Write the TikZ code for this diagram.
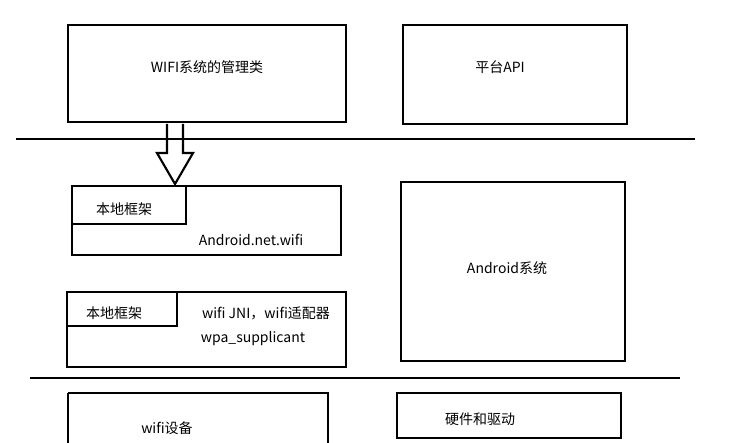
\documentclass[tikz,border=0pt]{standalone}
\usepackage{fontspec}
\setmainfont{Noto Sans CJK SC}
\usetikzlibrary{positioning}
\tikzset{
  box/.style={draw,line width=2.2pt},
  lab/.style={font=\fontsize{10.5}{12}\selectfont}
}
\begin{document}
\begin{tikzpicture}[x=0.75pt,y=-0.75pt]
\useasboundingbox (0,0) rectangle (741,442);
% upper layer
\draw[box] (68,25) rectangle (346,122);
\node[lab] (mgr) at (207,67) {WIFI系统的管理类};
\draw[box] (403,25) rectangle (627,124);
\node[lab] (api) at (500,67) {平台API};
\draw[line width=2.2pt] (16,139) -- (695,139);
% hollow arrow
\draw[line width=1.6pt] (167,124) -- (167,153) -- (157,153) -- (175,184)
  -- (193,153) -- (183,153) -- (183,124);
% middle layer
\draw[box] (72,186) rectangle (341,255);
\draw[box] (72,186) rectangle (186,224);
\node[lab] (nf1) at (124,209) {本地框架};
\node[lab] (anw) at (251,240) {Android.net.wifi};
\draw[box] (401,182) rectangle (625,361);
\node[lab] (asys) at (507,268) {Android系统};
\draw[box] (67,292) rectangle (346,367);
\draw[box] (67,292) rectangle (177,326);
\node[lab] (nf2) at (114,313) {本地框架};
\node[lab] (jni) at (266,313) {wifi JNI，wifi适配器};
\node[lab] (wpa) at (253,339) {wpa\_supplicant};
\draw[line width=2.2pt] (30,378) -- (680,378);
% hardware layer
\draw[box] (68,393) -- (68,445) (68,393) -- (328,393) -- (328,445);
\node[lab] (dev) at (167,428) {wifi设备};
\draw[box] (397,393) rectangle (621,438);
\node[lab] (drv) at (480,419) {硬件和驱动};
\end{tikzpicture}
\end{document}
